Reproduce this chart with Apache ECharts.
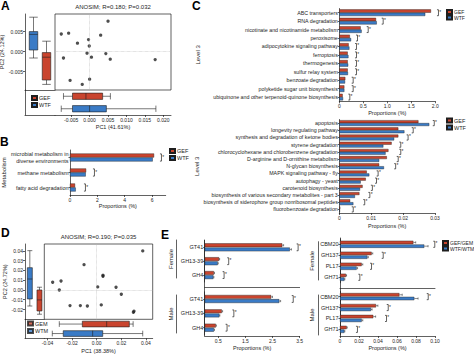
<!DOCTYPE html>
<html><head><meta charset="utf-8">
<script src="https://cdn.jsdelivr.net/npm/echarts@6/dist/echarts.min.js"></script>
<style>html,body{margin:0;padding:0;background:#fff}#c{width:474px;height:354px}</style>
</head><body><div id="c"></div>
<script>
// ---------------- DATA ----------------
// Panel A (PCoA, GEF vs WTF)
const aPoints = [[-0.0077,0.0044],[-0.0057,0.0046],[-0.0033,0.0021],[-0.0071,-0.0016],[-0.0053,-0.0072],[-0.0020,-0.0082],[-0.0003,0.0030],[-0.0001,0.0014],[-0.0007,-0.0004],[0.0005,-0.0014],[0.0000,-0.0069],[0.0030,0.0041],[0.0044,-0.0005],[0.0056,-0.0019],[0.0050,0.0076],[0.0178,-0.0020]];
const aBoxCats = ['WTF','GEF'];
const aBoxPC2 = [[-0.0016,0.0004,0.0043,0.0050,0.0086],[-0.0082,-0.0071,-0.0014,-0.00025,0.0026]];
const aBoxPC1 = [[-0.0077,-0.00465,0.0000,0.00455,0.0180],[-0.0071,-0.00465,-0.0010,0.00354,0.00564]];
const aPC1Ticks = [-0.005,0,0.005,0.010,0.015,0.020];
const aPC2Ticks = [-0.005,0,0.005];
const aTitle = 'ANOSIM; R=0.180; P=0.032';

// Panel B (Metabolism)
const bCats = ['microbial metabolism in\ndiverse environments','methane metabolism','fatty acid degradation'];
const bGEF = [6.15,1.18,0.37];
const bWTF = [6.05,1.15,0.42];
const bSig = [6.58,1.68,1.02];
const bTicks = [0,2,4,6];

// Panel C top (Level 3, %)
const cTopCats = ['ABC transporters','RNA degradation','nicotinate and nicotinamide metabolism','peroxisome','adipocytokine signaling pathway','ferroptosis','thermogenesis','sulfur relay system','benzoate degradation','polyketide sugar unit biosynthesis','ubiquinone and other terpenoid-quinone biosynthesis'];
const cTopGEF = [1.91,0.765,0.445,0.22,0.195,0.175,0.175,0.175,0.125,0.105,0.07];
const cTopWTF = [1.79,0.78,0.465,0.245,0.21,0.19,0.185,0.18,0.12,0.105,0.078];
const cTopSig = [2.035,0.883,0.571,0.348,0.327,0.327,0.327,0.327,0.258,0.258,0.188];
const cTopTicks = [0,0.5,1,1.5,2];

// Panel C bottom (Level 3, %)
const cBotCats = ['apoptosis','longevity regulating pathway','synthesis and degradation of ketone bodies','styrene degradation','chlorocyclohexane and chlorobenzene degradation','D-arginine and D-ornithine metabolism','N-glycan biosynthesis','MAPK signaling pathway - fly','autophagy - yeast','carotenoid biosynthesis','biosynthesis of various secondary metabolites - part 3','biosynthesis of siderophore group nonribosomal peptides','fluorobenzoate degradation'];
const cBotGEF = [0.0248,0.0185,0.0185,0.0164,0.0154,0.0149,0.0125,0.0086,0.0083,0.0073,0.0063,0.0034,0.0003];
const cBotWTF = [0.0282,0.0204,0.0172,0.0138,0.0145,0.0125,0.0140,0.0094,0.0067,0.0065,0.0049,0.0044,0.0002];
const cBotSig = [0.0293,0.0227,0.0211,0.0188,0.0188,0.0180,0.0172,0.0117,0.0112,0.0099,0.0091,0.0075,0.0039];
const cBotTicks = [0,0.01,0.02,0.03];

// Panel D (PCoA, GEM vs WTM)
const dPoints = [[-0.0358,0.0079],[-0.0290,0.0092],[-0.0304,0.0000],[-0.0217,-0.0160],[-0.0133,-0.0160],[-0.0076,-0.0164],[-0.0103,0.0259],[0.0008,0.0031],[0.0051,0.0150],[0.0051,0.0140],[0.0037,-0.0153],[0.0157,0.0028],[0.0200,-0.0044],[0.0298,-0.0228],[0.0303,-0.0218],[0.0374,0.0399]];
const dBoxCats = ['WTM','GEM'];
const dBoxPC2 = [[-0.0164,-0.0092,0.0112,0.0228,0.0402],[-0.0248,-0.0215,-0.0102,0.0000,0.0028]];
const dBoxPC1 = [[-0.0361,-0.0272,-0.0033,0.0049,0.0374],[-0.0304,-0.0117,0.0081,0.0265,0.0296]];
const dPC1Ticks = [-0.04,-0.02,0,0.02,0.04];
const dPC2Ticks = [-0.02,-0.01,0,0.01,0.02,0.03,0.04];
const dTitle = 'ANOSIM; R=0.190; P=0.035';

// Panel E (CAZy families, %)
const eLeftCats = ['GT41','GH13-39','GH4'];
const eLeftFemaleGEF = [2.86,0.53,0.34];
const eLeftFemaleWTF = [3.14,0.48,0.32];
const eLeftFemaleGEFErr = [0.05,0.02,0.02];
const eLeftFemaleWTFErr = [0.06,0.02,0.02];
const eLeftFemaleSig = [3.39,0.83,0.66];
const eLeftMaleGEF = [2.45,0.63,0.41];
const eLeftMaleWTF = [2.75,0.54,0.34];
const eLeftMaleGEFErr = [0.05,0.03,0.02];
const eLeftMaleWTFErr = [0.05,0.02,0.02];
const eLeftMaleSig = [3.21,1.02,0.77];
const eLeftTicks = [0.5,1.5,2.5,3.5];
const eRightCats = ['CBM20','GH137','PL17','GH71'];
const eRightFemaleGEF = [0.0772,0.0333,0.0228,0.0063];
const eRightFemaleWTF = [0.0887,0.0288,0.0175,0.0046];
const eRightFemaleGEFErr = [0.0025,0.0012,0.0012,0.0006];
const eRightFemaleWTFErr = [0.0040,0.0010,0.0010,0.0005];
const eRightFemaleSig = [0.0982,0.0439,0.0316,0.0193];
const eRightMaleGEF = [0.0625,0.0379,0.0350,0.0070];
const eRightMaleWTF = [0.0782,0.0326,0.0228,0.0046];
const eRightMaleGEFErr = [0.0030,0.0020,0.0025,0.0006];
const eRightMaleWTFErr = [0.0040,0.0012,0.0012,0.0005];
const eRightMaleSig = [0.0913,0.0492,0.0474,0.0168];
const eRightTicks = [0,0.02,0.04,0.06,0.08,0.10];

// ---------------- STYLE / BUILD ----------------
const RED = '#c9442e', BLUE = '#3a7bc6', INK = '#1e1e1e';
const FONT = 'Liberation Sans, Arial, Helvetica, sans-serif';
const LS = {color: INK, width: 0.7};
const TICKF = 5, CATF = 5.5, NAMEF = 5.5;

const grids = [], xAxes = [], yAxes = [], series = [];
function addGrid(g) { grids.push(Object.assign({outerBoundsMode: 'none', containLabel: false}, g)); return grids.length - 1; }
function hiddenValueAxis(gi, extra) { return Object.assign({gridIndex: gi, type: 'value', min: 0, max: 1, show: false}, extra || {}); }
function lineOnlyAxis(gi, position, extra) {
  return Object.assign({gridIndex: gi, type: 'value', min: 0, max: 1, position: position,
    axisLine: {show: true, onZero: false, lineStyle: LS}, axisTick: {show: false}, axisLabel: {show: false}, splitLine: {show: false}}, extra || {});
}
function frame(o) {
  const gi = addGrid({left: o.left, top: o.top, width: o.width, height: o.height});
  const xs = [];
  if (o.bottom) xs.push(lineOnlyAxis(gi, 'bottom'));
  if (o.top_) xs.push(lineOnlyAxis(gi, 'top'));
  if (!xs.length) xs.push(hiddenValueAxis(gi));
  xs.forEach(a => xAxes.push(a));
  if (o.leftLine) yAxes.push(lineOnlyAxis(gi, 'left', o.yName ? {name: o.yName, nameLocation: 'middle', nameRotate: 90, nameGap: o.yNameGap, nameTextStyle: {fontSize: NAMEF + 0.5, color: INK}} : {}));
  else yAxes.push(hiddenValueAxis(gi));
}
// significance bracket + asterisk, placed through the axes
function sigSeries(xi, yi, vals, barW) {
  return {type: 'custom', xAxisIndex: xi, yAxisIndex: yi, clip: false, silent: true,
    color: INK, itemStyle: {color: INK},
    data: vals.map((v, i) => [v, i]),
    renderItem: function (params, api) {
      const p = api.coord([api.value(0), api.value(1)]);
      const h = barW * 0.9;
      const st = {stroke: INK, lineWidth: 0.7, fill: null};
      return {type: 'group', children: [
        {type: 'polyline', shape: {points: [[p[0], p[1] - h], [p[0] + 1.5, p[1] - h], [p[0] + 1.5, p[1] + h], [p[0], p[1] + h]]}, style: st},
        {type: 'text', x: p[0] + 2.3, y: p[1] - 0.5, style: {legacy: false, text: '*', fill: INK, align: 'left', verticalAlign: 'middle', fontSize: 4.8, fontFamily: FONT}}
      ]};
    }};
}
function errSeries(xi, yi, vals, errs, which, barW, gapFrac) {
  return {type: 'custom', xAxisIndex: xi, yAxisIndex: yi, silent: true, clip: false,
    color: INK, itemStyle: {color: INK},
    data: vals.map((v, i) => [i, v, errs[i]]),
    renderItem: function (params, api) {
      const i = api.value(0), v = api.value(1), e = api.value(2);
      const p0 = api.coord([v, i]), p1 = api.coord([v + e, i]);
      const off = (barW * (1 + gapFrac)) / 2 * (which === 0 ? -1 : 1);
      const y = p0[1] + off;
      const st = {stroke: INK, lineWidth: 0.5};
      return {type: 'group', children: [
        {type: 'line', shape: {x1: p0[0], y1: y, x2: p1[0], y2: y}, style: st},
        {type: 'line', shape: {x1: p1[0], y1: y - 1.1, x2: p1[0], y2: y + 1.1}, style: st}
      ]};
    }};
}
function hbar(o) {
  const gi = addGrid({left: o.left, top: o.top, width: o.width, height: o.height});
  const xi = xAxes.length, yi = yAxes.length;
  xAxes.push({gridIndex: gi, type: 'value', min: 0, max: o.max, offset: o.xOffset || 0,
    axisLine: {show: o.xLine !== false, onZero: false, lineStyle: LS},
    axisTick: {show: !!o.ticks, customValues: o.ticks, length: 2, lineStyle: LS},
    axisLabel: {show: !!o.ticks, customValues: o.ticks, formatter: o.fmt, fontSize: TICKF, color: INK, margin: 2, fontFamily: FONT},
    splitLine: {show: false},
    name: o.xName || '', nameLocation: 'middle', nameGap: o.xNameGap || 8,
    nameTextStyle: {fontSize: NAMEF, color: INK, fontFamily: FONT}});
  yAxes.push({gridIndex: gi, type: 'category', data: o.cats, inverse: true,
    axisLine: {show: true, lineStyle: LS},
    axisTick: {show: true, length: 1.5, alignWithLabel: true, lineStyle: LS},
    axisLabel: {fontSize: o.catF || CATF, color: INK, margin: 1.5, interval: 0, lineHeight: (o.catF || CATF) + 0.8, fontFamily: FONT},
    name: o.yName || '', nameLocation: 'middle', nameRotate: 90, nameGap: o.yNameGap || 10,
    nameTextStyle: {fontSize: NAMEF + 0.5, color: INK, fontFamily: FONT}});
  const bs = {borderColor: INK, borderWidth: 0.4};
  const gapPct = o.gapFrac || 0;
  series.push({type: 'bar', name: o.names[0], xAxisIndex: xi, yAxisIndex: yi, data: o.gef, barWidth: o.barW, barGap: (gapPct * 100) + '%',
    itemStyle: Object.assign({color: RED}, bs)});
  series.push({type: 'bar', name: o.names[1], xAxisIndex: xi, yAxisIndex: yi, data: o.wtf, barWidth: o.barW, barGap: (gapPct * 100) + '%',
    itemStyle: Object.assign({color: BLUE}, bs)});
  if (o.gefErr) series.push(errSeries(xi, yi, o.gef, o.gefErr, 0, o.barW, gapPct));
  if (o.wtfErr) series.push(errSeries(xi, yi, o.wtf, o.wtfErr, 1, o.barW, gapPct));
  series.push(sigSeries(xi, yi, o.sig, o.barW));
}
function boxStyle(d, i) { return {value: d, itemStyle: {color: i ? RED : BLUE, borderColor: INK, borderWidth: 0.6}}; }

// ---- Panel A ----
(function () {
  const xr = [-0.0094, 0.0221], yr = [-0.0096, 0.0094];
  let gi = addGrid({left: 55, top: 14, width: 116, height: 76, show: true, borderColor: INK, borderWidth: 0.7});
  let xi = xAxes.length, yi = yAxes.length;
  xAxes.push({gridIndex: gi, type: 'value', min: xr[0], max: xr[1], position: 'top',
    axisLine: {show: false}, axisTick: {show: false}, axisLabel: {show: false}, splitLine: {show: false},
    name: aTitle, nameLocation: 'middle', nameGap: 4, nameTextStyle: {fontSize: NAMEF + 0.5, color: INK, fontFamily: FONT}});
  yAxes.push({gridIndex: gi, type: 'value', min: yr[0], max: yr[1], show: false});
  series.push({type: 'scatter', xAxisIndex: xi, yAxisIndex: yi, data: aPoints, symbolSize: 3.3,
    itemStyle: {color: '#222'},
    markLine: {silent: true, symbol: 'none', label: {show: false}, lineStyle: {type: 'dotted', color: '#b5b5b5', width: 0.6}, data: [{xAxis: 0}, {yAxis: 0}]}});
  gi = addGrid({left: 27, top: 14, width: 26, height: 76});
  xi = xAxes.length; yi = yAxes.length;
  xAxes.push({gridIndex: gi, type: 'category', data: aBoxCats, show: false});
  yAxes.push({gridIndex: gi, type: 'value', min: yr[0], max: yr[1], offset: 2,
    axisLine: {show: true, onZero: false, lineStyle: LS},
    axisTick: {show: true, customValues: aPC2Ticks, length: 2, lineStyle: LS},
    axisLabel: {customValues: aPC2Ticks, formatter: v => v.toFixed(3), fontSize: TICKF, color: INK, margin: 2, fontFamily: FONT},
    splitLine: {show: false},
    name: 'PC2 (24.12%)', nameLocation: 'middle', nameRotate: 90, nameGap: 17, nameTextStyle: {fontSize: NAMEF, color: INK, fontFamily: FONT}});
  series.push({type: 'boxplot', xAxisIndex: xi, yAxisIndex: yi, boxWidth: [8.5, 8.5], data: aBoxPC2.map(boxStyle)});
  gi = addGrid({left: 55, top: 90, width: 116, height: 25});
  xi = xAxes.length; yi = yAxes.length;
  xAxes.push({gridIndex: gi, type: 'value', min: xr[0], max: xr[1],
    axisLine: {show: true, onZero: false, lineStyle: LS},
    axisTick: {show: true, customValues: aPC1Ticks, length: 2, lineStyle: LS},
    axisLabel: {customValues: aPC1Ticks, formatter: v => v.toFixed(3), fontSize: TICKF, color: INK, margin: 2, fontFamily: FONT},
    splitLine: {show: false},
    name: 'PC1 (41.61%)', nameLocation: 'middle', nameGap: 8.5, nameTextStyle: {fontSize: NAMEF, color: INK, fontFamily: FONT}});
  yAxes.push({gridIndex: gi, type: 'category', data: aBoxCats, show: false});
  series.push({type: 'boxplot', layout: 'horizontal', xAxisIndex: xi, yAxisIndex: yi, boxWidth: [6.3, 6.3], data: aBoxPC1.map(boxStyle)});
  frame({left: 25, top: 90, width: 30, height: 25, bottom: true, top_: true, leftLine: true});
})();

// ---- Panel B ----
hbar({left: 70, top: 150, width: 95.7, height: 45, cats: bCats, gef: bGEF, wtf: bWTF, sig: bSig, names: ['GEF', 'WTF'],
  max: 7, ticks: bTicks, fmt: v => String(v), xName: 'Proportions (%)', xNameGap: 8, barW: 4, catF: 5.5,
  yName: 'Metabolism', yNameGap: 62});

// ---- Panel C ----
hbar({left: 339.3, top: 8.5, width: 96, height: 92.8, cats: cTopCats, gef: cTopGEF, wtf: cTopWTF, sig: cTopSig, names: ['GEF', 'WTF'],
  max: 2, ticks: cTopTicks, fmt: v => (v === 0 ? '0' : v.toFixed(1)), xName: 'Proportions (%)', xNameGap: 8.5, barW: 3.3, catF: 5.3,
  yName: 'Level 3', yNameGap: 138});
hbar({left: 339.3, top: 119.5, width: 95.7, height: 93.5, cats: cBotCats, gef: cBotGEF, wtf: cBotWTF, sig: cBotSig, names: ['GEF', 'WTF'],
  max: 0.03, ticks: cBotTicks, fmt: v => (v === 0 ? '0' : v.toFixed(2)), xName: 'Proportions (%)', xNameGap: 9.5, barW: 2.9, catF: 5.3,
  yName: 'Level 3', yNameGap: 138});

// ---- Panel D ----
(function () {
  const xr = [-0.0426, 0.0455], yr = [-0.030, 0.047];
  let gi = addGrid({left: 44.3, top: 244, width: 108.4, height: 75.3, show: true, borderColor: INK, borderWidth: 0.7});
  let xi = xAxes.length, yi = yAxes.length;
  xAxes.push({gridIndex: gi, type: 'value', min: xr[0], max: xr[1], position: 'top',
    axisLine: {show: false}, axisTick: {show: false}, axisLabel: {show: false}, splitLine: {show: false},
    name: dTitle, nameLocation: 'middle', nameGap: 4, nameTextStyle: {fontSize: NAMEF + 0.5, color: INK, fontFamily: FONT}});
  yAxes.push({gridIndex: gi, type: 'value', min: yr[0], max: yr[1], show: false});
  series.push({type: 'scatter', xAxisIndex: xi, yAxisIndex: yi, data: dPoints, symbolSize: 3.3,
    itemStyle: {color: '#222'},
    markLine: {silent: true, symbol: 'none', label: {show: false}, lineStyle: {type: 'dotted', color: '#b5b5b5', width: 0.6}, data: [{xAxis: 0}, {yAxis: 0}]}});
  series.push({type: 'scatter', name: 'GEM', xAxisIndex: xi, yAxisIndex: yi, data: [], itemStyle: {color: RED, borderColor: INK, borderWidth: 0.4}});
  series.push({type: 'scatter', name: 'WTM', xAxisIndex: xi, yAxisIndex: yi, data: [], itemStyle: {color: BLUE, borderColor: INK, borderWidth: 0.4}});
  gi = addGrid({left: 25, top: 244, width: 19.3, height: 75.3});
  xi = xAxes.length; yi = yAxes.length;
  xAxes.push({gridIndex: gi, type: 'category', data: dBoxCats, show: false});
  yAxes.push({gridIndex: gi, type: 'value', min: yr[0], max: yr[1],
    axisLine: {show: true, onZero: false, lineStyle: LS},
    axisTick: {show: true, customValues: dPC2Ticks, length: 2, lineStyle: LS},
    axisLabel: {customValues: dPC2Ticks, formatter: v => v.toFixed(2), fontSize: TICKF, color: INK, margin: 2, fontFamily: FONT},
    splitLine: {show: false},
    name: 'PC2 (24.72%)', nameLocation: 'middle', nameRotate: 90, nameGap: 16, nameTextStyle: {fontSize: NAMEF, color: INK, fontFamily: FONT}});
  series.push({type: 'boxplot', xAxisIndex: xi, yAxisIndex: yi, boxWidth: [5, 5], data: dBoxPC2.map(boxStyle)});
  gi = addGrid({left: 44.3, top: 319.3, width: 108.4, height: 19});
  xi = xAxes.length; yi = yAxes.length;
  xAxes.push({gridIndex: gi, type: 'value', min: xr[0], max: xr[1],
    axisLine: {show: true, onZero: false, lineStyle: LS},
    axisTick: {show: true, customValues: dPC1Ticks, length: 2, lineStyle: LS},
    axisLabel: {customValues: dPC1Ticks, formatter: v => v.toFixed(2), fontSize: TICKF, color: INK, margin: 2, fontFamily: FONT},
    splitLine: {show: false},
    name: 'PC1 (38.38%)', nameLocation: 'middle', nameGap: 9.5, nameTextStyle: {fontSize: NAMEF, color: INK, fontFamily: FONT}});
  yAxes.push({gridIndex: gi, type: 'category', data: dBoxCats, show: false});
  series.push({type: 'boxplot', layout: 'horizontal', xAxisIndex: xi, yAxisIndex: yi, boxWidth: [5.7, 5.7], data: dBoxPC1.map(boxStyle)});
  frame({left: 25, top: 319.3, width: 19.3, height: 19, bottom: true, top_: true, leftLine: true});
})();

// ---- Panel E ----
const eNames = ['GEF/GEM', 'WTF/WTM'];
hbar({left: 204.7, top: 240.4, width: 94.9, height: 41.6, cats: eLeftCats, gef: eLeftFemaleGEF, wtf: eLeftFemaleWTF, sig: eLeftFemaleSig,
  gefErr: eLeftFemaleGEFErr, wtfErr: eLeftFemaleWTFErr,
  names: eNames, max: 3.5, ticks: null, xOffset: 5.3, barW: 3.8, gapFrac: 0.1, catF: 5.5});
hbar({left: 204.7, top: 291.8, width: 94.9, height: 43.1, cats: eLeftCats, gef: eLeftMaleGEF, wtf: eLeftMaleWTF, sig: eLeftMaleSig,
  gefErr: eLeftMaleGEFErr, wtfErr: eLeftMaleWTFErr,
  names: eNames, max: 3.5, ticks: eLeftTicks, fmt: v => String(v), xOffset: 1.1, xName: 'Proportions (%)', xNameGap: 8.5,
  barW: 3.8, gapFrac: 0.1, catF: 5.5});
hbar({left: 340, top: 238.8, width: 95, height: 44, cats: eRightCats, gef: eRightFemaleGEF, wtf: eRightFemaleWTF, sig: eRightFemaleSig,
  gefErr: eRightFemaleGEFErr, wtfErr: eRightFemaleWTFErr,
  names: eNames, max: 0.10, ticks: null, xOffset: 5.5, barW: 3.4, gapFrac: 0.1, catF: 5.5});
hbar({left: 340, top: 291.2, width: 95, height: 43.6, cats: eRightCats, gef: eRightMaleGEF, wtf: eRightMaleWTF, sig: eRightMaleSig,
  gefErr: eRightMaleGEFErr, wtfErr: eRightMaleWTFErr,
  names: eNames, max: 0.10, ticks: eRightTicks, fmt: v => (v === 0 ? '0' : v.toFixed(2)), xOffset: 1.2, xName: 'Proportions (%)', xNameGap: 8.5,
  barW: 3.4, gapFrac: 0.1, catF: 5.5});
frame({left: 204.7, top: 240, width: 94.9, height: 96, leftLine: true});
frame({left: 340, top: 238, width: 95, height: 98, leftLine: true});
frame({left: 176.7, top: 240, width: 1, height: 38, leftLine: true, yName: 'Female', yNameGap: 2.5});
frame({left: 176.7, top: 295, width: 1, height: 38, leftLine: true, yName: 'Male', yNameGap: 2.5});
frame({left: 318.3, top: 241.7, width: 1, height: 38.3, leftLine: true, yName: 'Female', yNameGap: 3.5});
frame({left: 318.3, top: 295, width: 1, height: 40, leftLine: true, yName: 'Male', yNameGap: 3.5});

const legendBase = {orient: 'vertical', icon: 'rect', itemWidth: 5, itemHeight: 4, padding: 0, selectedMode: false,
  textStyle: {fontSize: 5.5, color: INK, fontFamily: FONT, padding: [0, 0, 0, -3]}};
const L = o => Object.assign({}, legendBase, o);

const panelTitle = (t, l, tp) => ({text: t, left: l, top: tp, padding: 0, textStyle: {fontSize: 12, fontWeight: 'bold', color: '#000', fontFamily: FONT}});

const option = {
  animation: false,
  backgroundColor: '#fff',
  textStyle: {fontFamily: FONT, color: INK},
  title: [panelTitle('A', 1, 0), panelTitle('B', 0, 136), panelTitle('C', 192, 0), panelTitle('D', 1, 227), panelTitle('E', 161, 229)],
  legend: [
    L({data: ['GEF', 'WTF'], left: 31, top: 95, itemGap: 1}),
    L({data: ['GEF', 'WTF'], left: 169, top: 148, itemGap: 1}),
    L({data: ['GEF', 'WTF'], left: 446, top: 9, itemGap: -0.5, textStyle: Object.assign({}, legendBase.textStyle, {fontSize: 5})}),
    L({data: ['GEF', 'WTF'], left: 446, top: 117.5, itemGap: 1}),
    L({data: ['GEM', 'WTM'], left: 27, top: 320.5, itemGap: 1.5}),
    L({data: eNames, left: 442, top: 240, itemGap: -0.5, textStyle: Object.assign({}, legendBase.textStyle, {fontSize: 5})})
  ],
  grid: grids, xAxis: xAxes, yAxis: yAxes, series: series
};
const chart = echarts.init(document.getElementById('c'), null, {renderer: 'svg'});
chart.setOption(option);
</script></body></html>
